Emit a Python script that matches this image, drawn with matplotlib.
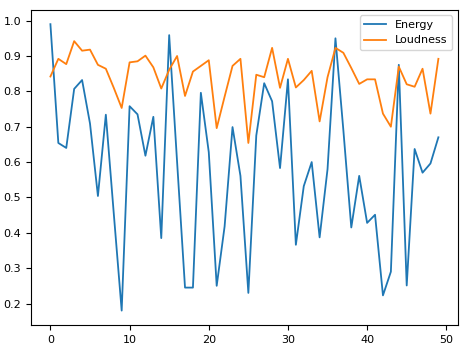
import numpy as np
import matplotlib
matplotlib.use("Agg")
import matplotlib.pyplot as plt

energy = [0.99, 0.654, 0.64, 0.807, 0.832, 0.709, 0.504, 0.734, 0.455, 0.18,
          0.758, 0.735, 0.618, 0.728, 0.385, 0.959, 0.60, 0.245, 0.245, 0.796,
          0.628, 0.25, 0.418, 0.699, 0.561, 0.23, 0.675, 0.823, 0.772, 0.583,
          0.834, 0.366, 0.532, 0.60, 0.387, 0.58, 0.95, 0.69, 0.415, 0.561,
          0.428, 0.451, 0.223, 0.29, 0.875, 0.251, 0.637, 0.57, 0.596, 0.67]
loudness = [0.842, 0.892, 0.877, 0.942, 0.915, 0.918, 0.875, 0.864, 0.81, 0.753,
            0.882, 0.885, 0.901, 0.868, 0.808, 0.861, 0.90, 0.787, 0.856, 0.872,
            0.888, 0.696, 0.785, 0.872, 0.892, 0.654, 0.847, 0.84, 0.923, 0.81,
            0.892, 0.811, 0.832, 0.858, 0.715, 0.84, 0.923, 0.909, 0.866, 0.821,
            0.834, 0.834, 0.737, 0.70, 0.87, 0.82, 0.813, 0.864, 0.737, 0.892]
x = np.arange(len(energy))

fig = plt.figure(figsize=(4.7, 3.52), dpi=100)
ax = fig.add_axes([0.066, 0.077, 0.908, 0.895])
ax.plot(x, energy, label='Energy', color='#1f77b4', lw=1.3)
ax.plot(x, loudness, label='Loudness', color='#ff7f0e', lw=1.3)
ax.tick_params(labelsize=8)
ax.legend(fontsize=8)

fig.savefig('out.png', dpi=100)
